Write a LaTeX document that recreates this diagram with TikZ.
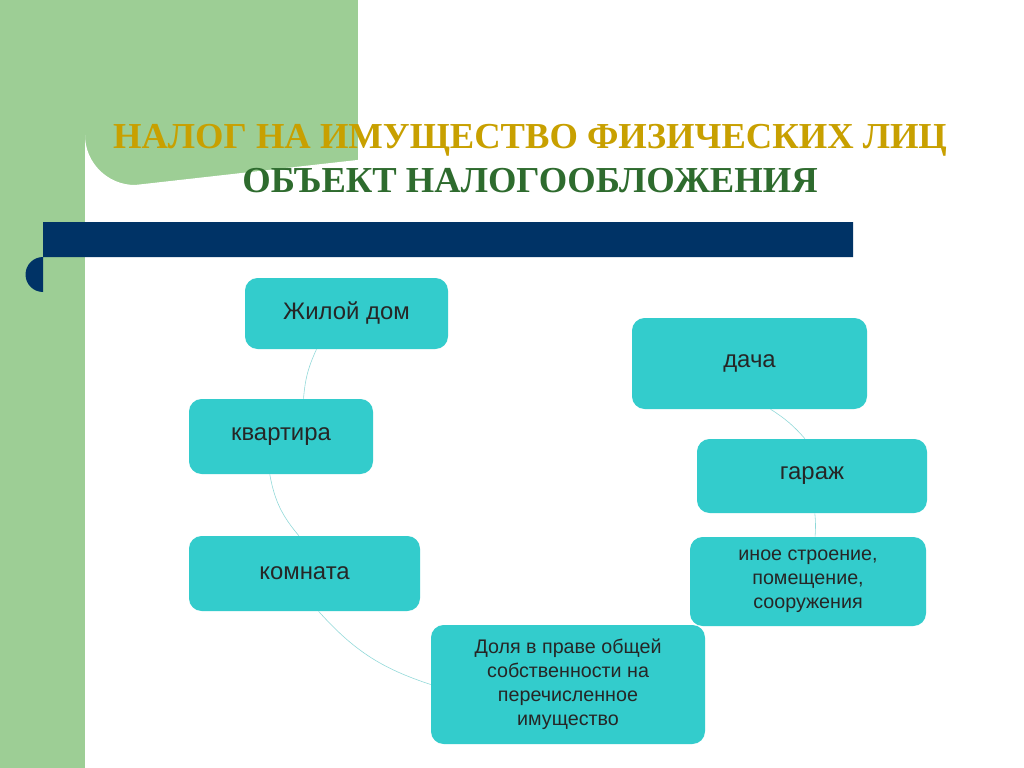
\documentclass[tikz,border=0pt]{standalone}
\usepackage{fontspec}
\setmainfont{Liberation Serif}
\newfontfamily\boxfont{Liberation Sans}
\usetikzlibrary{positioning}
\definecolor{stripgreen}{HTML}{9DCE95}
\definecolor{bardark}{HTML}{003366}
\definecolor{titlegold}{HTML}{C8A000}
\definecolor{titlegreen}{HTML}{2E6B2E}
\definecolor{boxteal}{HTML}{33CCCC}
\definecolor{linkteal}{HTML}{8ED8D8}
\tikzset{
    obj box/.style={rectangle, rounded corners=9pt, fill=boxteal, draw=none,
        align=center, font=\boxfont\fontsize{17}{20}\selectfont, text=black!85},
    link/.style={draw=linkteal, thin}
}
\begin{document}
\begin{tikzpicture}[x=0.025cm, y=-0.025cm]
    \useasboundingbox (0,0) rectangle (1024,768);
    % background
    \fill[stripgreen] (0,0) rectangle (358,768);
    \fill[white] (85,768) -- (85,135) arc[start angle=180, end angle=90, radius=50] -- (1024,85) -- (1024,768) -- cycle;
    \fill[bardark] (43,222) -- (853,222) -- (853,257) -- (43,257) arc[start angle=270, end angle=90, radius=17.5] -- cycle;

    % title
    \node[font=\bfseries\fontsize{26}{30}\selectfont, text=titlegold] (title) at (530,140) {НАЛОГ НА ИМУЩЕСТВО ФИЗИЧЕСКИХ ЛИЦ};
    \node[font=\bfseries\fontsize{26}{30}\selectfont, text=titlegreen] (subtitle) at (530,181) {ОБЪЕКТ НАЛОГООБЛОЖЕНИЯ};

    % objects
    \node[obj box, minimum width=203*0.025cm, minimum height=71*0.025cm] (house) at (346.5,313.5) {Жилой дом};
    \node[obj box, minimum width=184*0.025cm, minimum height=75*0.025cm] (flat) at (281,436.5) {квартира};
    \node[obj box, minimum width=231*0.025cm, minimum height=75*0.025cm] (room) at (304.5,573.5) {комната};
    \node[obj box, minimum width=274*0.025cm, minimum height=119*0.025cm,
        font=\boxfont\fontsize{14}{17}\selectfont] (share) at (568,684.5)
        {Доля в праве общей\\собственности на\\перечисленное\\имущество};
    \node[obj box, minimum width=236*0.025cm, minimum height=89*0.025cm,
        font=\boxfont\fontsize{14}{17}\selectfont] (other) at (808,581.5)
        {иное строение,\\помещение,\\сооружения};
    \node[obj box, minimum width=230*0.025cm, minimum height=74*0.025cm] (garage) at (812,476) {гараж};
    \node[obj box, minimum width=235*0.025cm, minimum height=91*0.025cm] (dacha) at (749.5,363.5) {дача};

    % links
    \draw[link] (house.south) ++(-30,0) coordinate (h1);
    \draw[link] (h1) to[bend right=10] ([xshift=16pt]flat.north);
    \draw[link] ([xshift=-8pt]flat.south) to[bend right=15] ([xshift=-4pt]room.north);
    \draw[link] ([xshift=10pt]room.south) to[bend right=15] (share.west);
    \draw[link] ([xshift=5pt]other.north) to[bend right=5] ([xshift=2pt]garage.south);
    \draw[link] ([xshift=-5pt]garage.north) to[bend right=8] ([xshift=15pt]dacha.south);
\end{tikzpicture}
\end{document}
